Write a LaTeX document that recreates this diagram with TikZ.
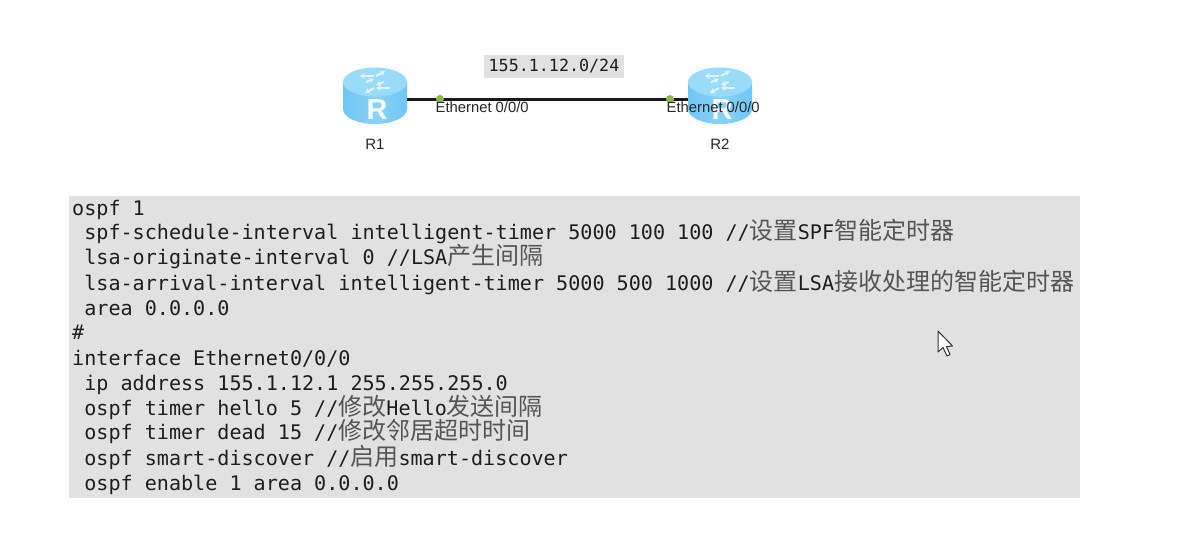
\documentclass[tikz,border=0pt]{standalone}
\usepackage{fontspec}
\setmainfont{Liberation Sans}
\setmonofont{DejaVu Sans Mono}
\newfontfamily\cjk{Noto Sans CJK SC}
\usetikzlibrary{calc,arrows.meta}
\definecolor{panelgray}{HTML}{E1E1E1}
\definecolor{codeink}{HTML}{1E1E1E}
\definecolor{cjkink}{HTML}{555555}
\definecolor{routertop}{HTML}{98DCFA}
\definecolor{routerside}{HTML}{6FC6F4}
\definecolor{routeredge}{HTML}{8AD2F7}
\definecolor{portgreen}{HTML}{8DB84A}
\newcommand{\zh}[1]{{\cjk\color{cjkink}\fontsize{24}{24}\selectfont #1}}
\tikzset{
  x=1pt,y=-1pt,
  codeline/.style={anchor=base west,inner sep=0pt,font=\ttfamily\fontsize{20.1}{20.1}\selectfont,text=codeink},
  devlabel/.style={inner sep=0pt,font=\fontsize{15}{15}\selectfont,text=black!85},
  portlabel/.style={anchor=base west,inner sep=0pt,font=\fontsize{14.8}{14.8}\selectfont,text=black!85},
  portdot/.style={circle,fill=portgreen,inner sep=0pt,minimum size=8pt},
  routerarrow/.style={white!70!routertop,line width=2pt,-{Stealth[length=5pt,width=6pt]}},
}
\newcommand{\routericon}[2]{%
  \shade[left color=routerside,right color=routerside,middle color=routeredge] (#1-32,#2-14) -- (#1-32,#2+13) arc[start angle=180,end angle=0,x radius=32,y radius=15] -- (#1+32,#2-14) -- cycle;
  \fill[routertop] (#1,#2-14) ellipse[x radius=32,y radius=14.5];
  \draw[routerarrow] (#1-1,#2-20) -- (#1-15,#2-20);
  \draw[routerarrow] (#1+1,#2-20) -- (#1+10,#2-25);
  \draw[routerarrow] (#1+15,#2-8) -- (#1+1,#2-8);
  \draw[routerarrow] (#1-1,#2-8) -- (#1-10,#2-3);
  \draw[routerarrow] (#1-9,#2-14) -- (#1-1,#2-17);
  \draw[routerarrow] (#1+9,#2-14) -- (#1+1,#2-11);
  \node[inner sep=0pt,text=white!90!routertop,font=\bfseries\fontsize{29}{29}\selectfont] at (#1+2,#2+14) {R};
}
\begin{document}
\begin{tikzpicture}
\useasboundingbox (0,0) rectangle (1195,550);
\fill[white] (0,0) rectangle (1195,550);
\fill[panelgray] (69,196) rectangle (1080,498);
\node[fill=panelgray,inner sep=0pt,minimum width=140pt,minimum height=23pt,font=\ttfamily\fontsize{16.7}{16.7}\selectfont,text=codeink] (net) at (554,66.5) {155.1.12.0/24};
\routericon{375}{96}
\routericon{720}{96}
\coordinate (r1) at (407,99.5);
\coordinate (r2) at (688,99.5);
\draw[line width=2.5pt,black!90] (r1) -- (r2);
\node[portdot] (p1) at (440,99) {};
\node[portdot] (p2) at (670,99) {};
\node[portlabel] (e1) at (435.5,112) {Ethernet 0/0/0};
\node[portlabel] (e2) at (666.5,112) {Ethernet 0/0/0};
\node[devlabel] (R1) at (375,144) {R1};
\node[devlabel] (R2) at (720,144) {R2};
\node[codeline] (l1) at (72,215) {ospf 1};
\node[codeline] (l2) at (72,239.5) {\ spf-schedule-interval intelligent-timer 5000 100 100 //\zh{设置}SPF\zh{智能定时器}};
\node[codeline] (l3) at (72,264.5) {\ lsa-originate-interval 0 //LSA\zh{产生间隔}};
\node[codeline] (l4) at (72,290) {\ lsa-arrival-interval intelligent-timer 5000 500 1000 //\zh{设置}LSA\zh{接收处理的智能定时器}};
\node[codeline] (l5) at (72,315) {\ area 0.0.0.0};
\node[codeline] (l6) at (72,339.5) {\#};
\node[codeline] (l7) at (72,365) {interface Ethernet0/0/0};
\node[codeline] (l8) at (72,390) {\ ip address 155.1.12.1 255.255.255.0};
\node[codeline] (l9) at (72,415) {\ ospf timer hello 5 //\zh{修改}Hello\zh{发送间隔}};
\node[codeline] (l10) at (72,439.5) {\ ospf timer dead 15 //\zh{修改邻居超时时间}};
\node[codeline] (l11) at (72,465) {\ ospf smart-discover //\zh{启用}smart-discover};
\node[codeline] (l12) at (72,490) {\ ospf enable 1 area 0.0.0.0};
\draw[fill=white,line width=1pt,draw=black!80,line join=round] (938,331) -- (938,352) -- (943,347.5) -- (947,356) -- (950,354.5) -- (946.5,346.5) -- (952.5,346) -- cycle;
\end{tikzpicture}
\end{document}
